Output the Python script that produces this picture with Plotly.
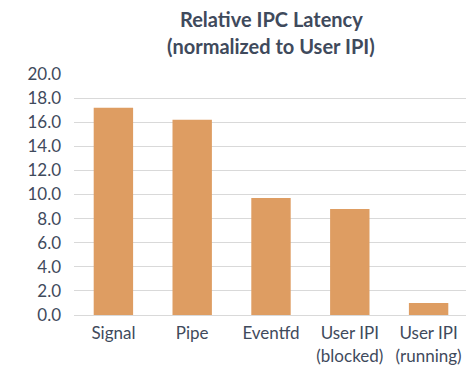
import plotly.graph_objects as go

categories = ["Signal", "Pipe", "Eventfd", "User IPI<br>(blocked)", "User IPI<br>(running)"]
values = [17.2, 16.2, 9.7, 8.8, 1.0]
y_ticks = [0, 2, 4, 6, 8, 10, 12, 14, 16, 18, 20]
title_lines = ["Relative IPC Latency", "(normalized to User IPI)"]

text_color = "#3F4A5C"
font_family = "Lato, Open Sans, sans-serif"

fig = go.Figure(go.Bar(
    x=categories, y=values,
    marker=dict(color="#DE9D62", line=dict(width=0)),
    width=0.5,
))

H = 372
for line, ypx in zip(title_lines, [11, 38]):
    fig.add_annotation(
        text=f"<b>{line}</b>", xref="paper", yref="paper",
        x=0.5, y=(H - 65 - ypx) / (H - 66 - 65), xanchor="center", yanchor="middle",
        showarrow=False, font=dict(size=20, color=text_color, family=font_family),
    )

fig.update_layout(
    width=474, height=372,
    margin=dict(l=66, r=14, t=66, b=65),
    paper_bgcolor="white", plot_bgcolor="white",
    font=dict(family=font_family, color=text_color, size=17),
    showlegend=False,
    bargap=0.5,
)
fig.update_yaxes(
    range=[0, 20], tickvals=y_ticks, tickformat=".1f",
    showgrid=True, gridcolor="#D9D9D9", gridwidth=1,
    zeroline=False, showline=False, ticks="",
    ticklabelstandoff=12,
    tickfont=dict(size=17, color=text_color),
)
fig.update_xaxes(
    showgrid=False, showline=True, linecolor="#D9D9D9", linewidth=1,
    ticks="", tickfont=dict(size=17, color=text_color),
    ticklabelstandoff=3,
)

fig.write_html("out.html")
